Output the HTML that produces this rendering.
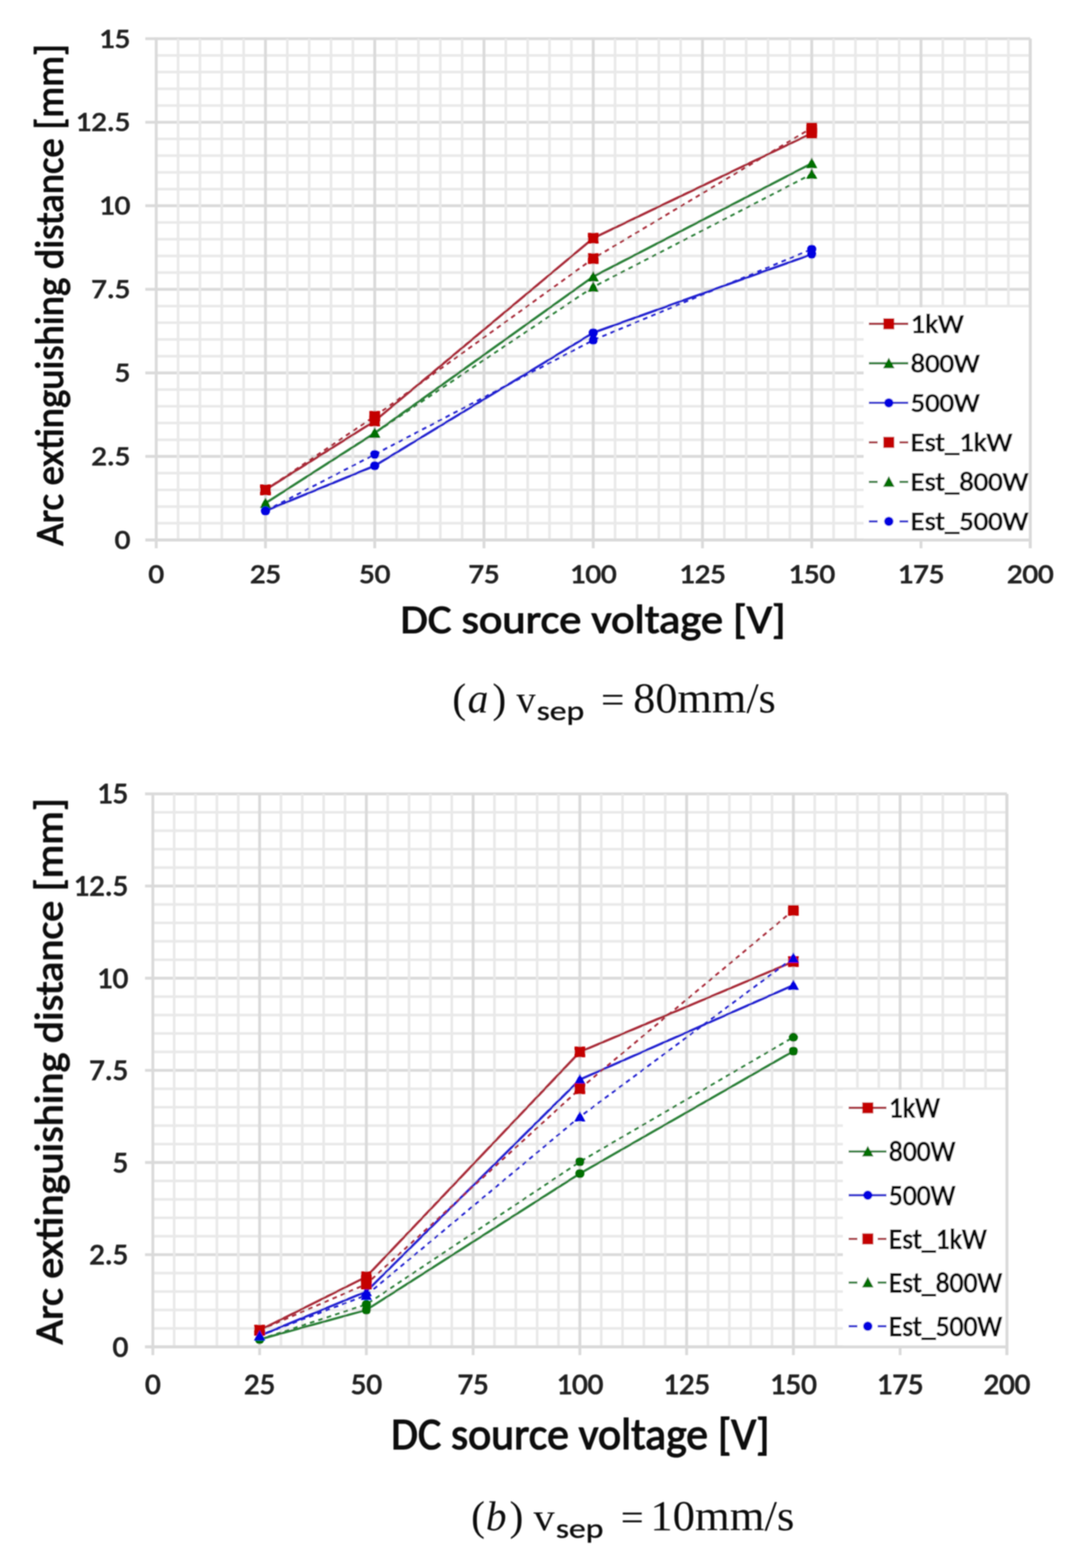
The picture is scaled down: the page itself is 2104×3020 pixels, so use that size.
<!DOCTYPE html>
<html><head><meta charset="utf-8"><title>Arc extinguishing distance vs DC source voltage</title>
<style>html,body{margin:0;padding:0;background:#fff;}body{width:2104px;height:3020px;overflow:hidden;}svg{display:block;}</style>
</head><body>
<svg width="2104" height="3020" viewBox="0 0 2104 3020">
<defs><filter id="soft" filterUnits="userSpaceOnUse" x="0" y="0" width="2104" height="3020"><feGaussianBlur stdDeviation="1.2"/></filter></defs>
<rect width="2104" height="3020" fill="#fff"/>
<g filter="url(#soft)">
<g><line x1="280" y1="1040" x2="1985" y2="1040" stroke="#dadada" stroke-width="5.5"/><line x1="301" y1="1007.82" x2="1985" y2="1007.82" stroke="#e9e9e9" stroke-width="5"/><line x1="301" y1="975.63" x2="1985" y2="975.63" stroke="#e9e9e9" stroke-width="5"/><line x1="301" y1="943.45" x2="1985" y2="943.45" stroke="#e9e9e9" stroke-width="5"/><line x1="301" y1="911.27" x2="1985" y2="911.27" stroke="#e9e9e9" stroke-width="5"/><line x1="280" y1="879.08" x2="1985" y2="879.08" stroke="#dadada" stroke-width="5.5"/><line x1="301" y1="846.9" x2="1985" y2="846.9" stroke="#e9e9e9" stroke-width="5"/><line x1="301" y1="814.72" x2="1985" y2="814.72" stroke="#e9e9e9" stroke-width="5"/><line x1="301" y1="782.53" x2="1985" y2="782.53" stroke="#e9e9e9" stroke-width="5"/><line x1="301" y1="750.35" x2="1985" y2="750.35" stroke="#e9e9e9" stroke-width="5"/><line x1="280" y1="718.17" x2="1985" y2="718.17" stroke="#dadada" stroke-width="5.5"/><line x1="301" y1="685.98" x2="1985" y2="685.98" stroke="#e9e9e9" stroke-width="5"/><line x1="301" y1="653.8" x2="1985" y2="653.8" stroke="#e9e9e9" stroke-width="5"/><line x1="301" y1="621.62" x2="1985" y2="621.62" stroke="#e9e9e9" stroke-width="5"/><line x1="301" y1="589.43" x2="1985" y2="589.43" stroke="#e9e9e9" stroke-width="5"/><line x1="280" y1="557.25" x2="1985" y2="557.25" stroke="#dadada" stroke-width="5.5"/><line x1="301" y1="525.07" x2="1985" y2="525.07" stroke="#e9e9e9" stroke-width="5"/><line x1="301" y1="492.88" x2="1985" y2="492.88" stroke="#e9e9e9" stroke-width="5"/><line x1="301" y1="460.7" x2="1985" y2="460.7" stroke="#e9e9e9" stroke-width="5"/><line x1="301" y1="428.52" x2="1985" y2="428.52" stroke="#e9e9e9" stroke-width="5"/><line x1="280" y1="396.33" x2="1985" y2="396.33" stroke="#dadada" stroke-width="5.5"/><line x1="301" y1="364.15" x2="1985" y2="364.15" stroke="#e9e9e9" stroke-width="5"/><line x1="301" y1="331.97" x2="1985" y2="331.97" stroke="#e9e9e9" stroke-width="5"/><line x1="301" y1="299.78" x2="1985" y2="299.78" stroke="#e9e9e9" stroke-width="5"/><line x1="301" y1="267.6" x2="1985" y2="267.6" stroke="#e9e9e9" stroke-width="5"/><line x1="280" y1="235.42" x2="1985" y2="235.42" stroke="#dadada" stroke-width="5.5"/><line x1="301" y1="203.23" x2="1985" y2="203.23" stroke="#e9e9e9" stroke-width="5"/><line x1="301" y1="171.05" x2="1985" y2="171.05" stroke="#e9e9e9" stroke-width="5"/><line x1="301" y1="138.87" x2="1985" y2="138.87" stroke="#e9e9e9" stroke-width="5"/><line x1="301" y1="106.68" x2="1985" y2="106.68" stroke="#e9e9e9" stroke-width="5"/><line x1="280" y1="74.5" x2="1985" y2="74.5" stroke="#dadada" stroke-width="5.5"/><line x1="301" y1="74.5" x2="301" y2="1056" stroke="#dadada" stroke-width="5.5"/><line x1="343.1" y1="74.5" x2="343.1" y2="1040" stroke="#e9e9e9" stroke-width="5"/><line x1="385.2" y1="74.5" x2="385.2" y2="1040" stroke="#e9e9e9" stroke-width="5"/><line x1="427.3" y1="74.5" x2="427.3" y2="1040" stroke="#e9e9e9" stroke-width="5"/><line x1="469.4" y1="74.5" x2="469.4" y2="1040" stroke="#e9e9e9" stroke-width="5"/><line x1="511.5" y1="74.5" x2="511.5" y2="1056" stroke="#dadada" stroke-width="5.5"/><line x1="553.6" y1="74.5" x2="553.6" y2="1040" stroke="#e9e9e9" stroke-width="5"/><line x1="595.7" y1="74.5" x2="595.7" y2="1040" stroke="#e9e9e9" stroke-width="5"/><line x1="637.8" y1="74.5" x2="637.8" y2="1040" stroke="#e9e9e9" stroke-width="5"/><line x1="679.9" y1="74.5" x2="679.9" y2="1040" stroke="#e9e9e9" stroke-width="5"/><line x1="722" y1="74.5" x2="722" y2="1056" stroke="#dadada" stroke-width="5.5"/><line x1="764.1" y1="74.5" x2="764.1" y2="1040" stroke="#e9e9e9" stroke-width="5"/><line x1="806.2" y1="74.5" x2="806.2" y2="1040" stroke="#e9e9e9" stroke-width="5"/><line x1="848.3" y1="74.5" x2="848.3" y2="1040" stroke="#e9e9e9" stroke-width="5"/><line x1="890.4" y1="74.5" x2="890.4" y2="1040" stroke="#e9e9e9" stroke-width="5"/><line x1="932.5" y1="74.5" x2="932.5" y2="1056" stroke="#dadada" stroke-width="5.5"/><line x1="974.6" y1="74.5" x2="974.6" y2="1040" stroke="#e9e9e9" stroke-width="5"/><line x1="1016.7" y1="74.5" x2="1016.7" y2="1040" stroke="#e9e9e9" stroke-width="5"/><line x1="1058.8" y1="74.5" x2="1058.8" y2="1040" stroke="#e9e9e9" stroke-width="5"/><line x1="1100.9" y1="74.5" x2="1100.9" y2="1040" stroke="#e9e9e9" stroke-width="5"/><line x1="1143" y1="74.5" x2="1143" y2="1056" stroke="#dadada" stroke-width="5.5"/><line x1="1185.1" y1="74.5" x2="1185.1" y2="1040" stroke="#e9e9e9" stroke-width="5"/><line x1="1227.2" y1="74.5" x2="1227.2" y2="1040" stroke="#e9e9e9" stroke-width="5"/><line x1="1269.3" y1="74.5" x2="1269.3" y2="1040" stroke="#e9e9e9" stroke-width="5"/><line x1="1311.4" y1="74.5" x2="1311.4" y2="1040" stroke="#e9e9e9" stroke-width="5"/><line x1="1353.5" y1="74.5" x2="1353.5" y2="1056" stroke="#dadada" stroke-width="5.5"/><line x1="1395.6" y1="74.5" x2="1395.6" y2="1040" stroke="#e9e9e9" stroke-width="5"/><line x1="1437.7" y1="74.5" x2="1437.7" y2="1040" stroke="#e9e9e9" stroke-width="5"/><line x1="1479.8" y1="74.5" x2="1479.8" y2="1040" stroke="#e9e9e9" stroke-width="5"/><line x1="1521.9" y1="74.5" x2="1521.9" y2="1040" stroke="#e9e9e9" stroke-width="5"/><line x1="1564" y1="74.5" x2="1564" y2="1056" stroke="#dadada" stroke-width="5.5"/><line x1="1606.1" y1="74.5" x2="1606.1" y2="1040" stroke="#e9e9e9" stroke-width="5"/><line x1="1648.2" y1="74.5" x2="1648.2" y2="1040" stroke="#e9e9e9" stroke-width="5"/><line x1="1690.3" y1="74.5" x2="1690.3" y2="1040" stroke="#e9e9e9" stroke-width="5"/><line x1="1732.4" y1="74.5" x2="1732.4" y2="1040" stroke="#e9e9e9" stroke-width="5"/><line x1="1774.5" y1="74.5" x2="1774.5" y2="1056" stroke="#dadada" stroke-width="5.5"/><line x1="1816.6" y1="74.5" x2="1816.6" y2="1040" stroke="#e9e9e9" stroke-width="5"/><line x1="1858.7" y1="74.5" x2="1858.7" y2="1040" stroke="#e9e9e9" stroke-width="5"/><line x1="1900.8" y1="74.5" x2="1900.8" y2="1040" stroke="#e9e9e9" stroke-width="5"/><line x1="1942.9" y1="74.5" x2="1942.9" y2="1040" stroke="#e9e9e9" stroke-width="5"/><line x1="1985" y1="74.5" x2="1985" y2="1056" stroke="#dadada" stroke-width="5.5"/></g>
<rect x="1664" y="592" width="320" height="446" fill="#fff"/>
<line x1="1985" y1="74.5" x2="1985" y2="1056" stroke="#dadada" stroke-width="5.5"/>
<line x1="280" y1="1040" x2="1985" y2="1040" stroke="#dadada" stroke-width="5.5"/>
<polyline points="511.5,943.45 722,810.85 1143,458.77 1564,256.66" fill="none" stroke="#a82a38" stroke-width="4.4" stroke-linejoin="round"/>
<polyline points="511.5,969.2 722,834.03 1143,532.79 1564,314.59" fill="none" stroke="#2a8038" stroke-width="4.4" stroke-linejoin="round"/>
<polyline points="511.5,984 722,897.11 1143,640.93 1564,489.66" fill="none" stroke="#2424d0" stroke-width="4.4" stroke-linejoin="round"/>
<polyline points="511.5,943.45 722,801.84 1143,498.03 1564,246.36" fill="none" stroke="#a82a38" stroke-width="3.6" stroke-dasharray="9 8" stroke-linejoin="round"/>
<polyline points="511.5,969.2 722,834.03 1143,552.74 1564,335.19" fill="none" stroke="#2a8038" stroke-width="3.6" stroke-dasharray="9 8" stroke-linejoin="round"/>
<polyline points="511.5,984 722,875.22 1143,655.09 1564,480.01" fill="none" stroke="#2424d0" stroke-width="3.6" stroke-dasharray="9 8" stroke-linejoin="round"/>
<rect x="501.17" y="933.12" width="20.67" height="20.67" fill="#c40000"/>
<rect x="711.66" y="800.52" width="20.67" height="20.67" fill="#c40000"/>
<rect x="1132.66" y="448.43" width="20.67" height="20.67" fill="#c40000"/>
<rect x="1553.66" y="246.32" width="20.67" height="20.67" fill="#c40000"/>
<polygon points="511.5,958.47 522.23,978.31 500.77,978.31" fill="#007000"/>
<polygon points="722,823.3 732.73,843.14 711.27,843.14" fill="#007000"/>
<polygon points="1143,522.07 1153.72,541.91 1132.28,541.91" fill="#007000"/>
<polygon points="1564,303.86 1574.72,323.7 1553.28,323.7" fill="#007000"/>
<circle cx="511.5" cy="984" r="8.78" fill="#0000e0"/>
<circle cx="722" cy="897.11" r="8.78" fill="#0000e0"/>
<circle cx="1143" cy="640.93" r="8.78" fill="#0000e0"/>
<circle cx="1564" cy="489.66" r="8.78" fill="#0000e0"/>
<rect x="501.17" y="933.12" width="20.67" height="20.67" fill="#c40000"/>
<rect x="711.66" y="791.51" width="20.67" height="20.67" fill="#c40000"/>
<rect x="1132.66" y="487.7" width="20.67" height="20.67" fill="#c40000"/>
<rect x="1553.66" y="236.02" width="20.67" height="20.67" fill="#c40000"/>
<polygon points="511.5,958.47 522.23,978.31 500.77,978.31" fill="#007000"/>
<polygon points="722,823.3 732.73,843.14 711.27,843.14" fill="#007000"/>
<polygon points="1143,542.02 1153.72,561.86 1132.28,561.86" fill="#007000"/>
<polygon points="1564,324.46 1574.72,344.3 1553.28,344.3" fill="#007000"/>
<circle cx="511.5" cy="984" r="8.78" fill="#0000e0"/>
<circle cx="722" cy="875.22" r="8.78" fill="#0000e0"/>
<circle cx="1143" cy="655.09" r="8.78" fill="#0000e0"/>
<circle cx="1564" cy="480.01" r="8.78" fill="#0000e0"/>
<line x1="1674" y1="623.7" x2="1750" y2="623.7" stroke="#a82a38" stroke-width="4.4"/>
<rect x="1701.9" y="613.1" width="21.2" height="21.2" fill="#c40000"/>
<text transform="translate(1754.5,640.7) scale(1.08,1)" font-size="51" text-anchor="start" font-family="Carlito, 'Liberation Sans', sans-serif" fill="#111" font-weight="normal" stroke="#111" stroke-width="1.6" textLength="94.39" lengthAdjust="spacingAndGlyphs">1kW</text>
<line x1="1674" y1="699.8" x2="1750" y2="699.8" stroke="#2a8038" stroke-width="4.4"/>
<polygon points="1712.5,688.8 1723.5,709.15 1701.5,709.15" fill="#007000"/>
<text transform="translate(1754.5,716.8) scale(1.08,1)" font-size="51" text-anchor="start" font-family="Carlito, 'Liberation Sans', sans-serif" fill="#111" font-weight="normal" stroke="#111" stroke-width="1.6" textLength="122.88" lengthAdjust="spacingAndGlyphs">800W</text>
<line x1="1674" y1="775.9" x2="1750" y2="775.9" stroke="#2424d0" stroke-width="4.4"/>
<circle cx="1712.5" cy="775.9" r="9" fill="#0000e0"/>
<text transform="translate(1754.5,792.9) scale(1.08,1)" font-size="51" text-anchor="start" font-family="Carlito, 'Liberation Sans', sans-serif" fill="#111" font-weight="normal" stroke="#111" stroke-width="1.6" textLength="122.88" lengthAdjust="spacingAndGlyphs">500W</text>
<line x1="1674" y1="852" x2="1691" y2="852" stroke="#a82a38" stroke-width="4.2"/>
<line x1="1733" y1="852" x2="1750" y2="852" stroke="#a82a38" stroke-width="4.2"/>
<rect x="1701.9" y="841.4" width="21.2" height="21.2" fill="#c40000"/>
<text transform="translate(1754.5,869) scale(1.08,1)" font-size="51" text-anchor="start" font-family="Carlito, 'Liberation Sans', sans-serif" fill="#111" font-weight="normal" stroke="#111" stroke-width="1.6" textLength="181.12" lengthAdjust="spacingAndGlyphs">Est_1kW</text>
<line x1="1674" y1="928.1" x2="1691" y2="928.1" stroke="#2a8038" stroke-width="4.2"/>
<line x1="1733" y1="928.1" x2="1750" y2="928.1" stroke="#2a8038" stroke-width="4.2"/>
<polygon points="1712.5,917.1 1723.5,937.45 1701.5,937.45" fill="#007000"/>
<text transform="translate(1754.5,945.1) scale(1.08,1)" font-size="51" text-anchor="start" font-family="Carlito, 'Liberation Sans', sans-serif" fill="#111" font-weight="normal" stroke="#111" stroke-width="1.6" textLength="209.63" lengthAdjust="spacingAndGlyphs">Est_800W</text>
<line x1="1674" y1="1004.2" x2="1691" y2="1004.2" stroke="#2424d0" stroke-width="4.2"/>
<line x1="1733" y1="1004.2" x2="1750" y2="1004.2" stroke="#2424d0" stroke-width="4.2"/>
<circle cx="1712.5" cy="1004.2" r="9" fill="#0000e0"/>
<text transform="translate(1754.5,1021.2) scale(1.08,1)" font-size="51" text-anchor="start" font-family="Carlito, 'Liberation Sans', sans-serif" fill="#111" font-weight="normal" stroke="#111" stroke-width="1.6" textLength="209.63" lengthAdjust="spacingAndGlyphs">Est_500W</text>
<text transform="translate(251,1057) scale(1.12,1)" font-size="53" text-anchor="end" font-family="Carlito, 'Liberation Sans', sans-serif" fill="#222" font-weight="normal" stroke="#222" stroke-width="1.6" textLength="26.86" lengthAdjust="spacingAndGlyphs">0</text>
<text transform="translate(251,896.08) scale(1.12,1)" font-size="53" text-anchor="end" font-family="Carlito, 'Liberation Sans', sans-serif" fill="#222" font-weight="normal" stroke="#222" stroke-width="1.6" textLength="67.09" lengthAdjust="spacingAndGlyphs">2.5</text>
<text transform="translate(251,735.17) scale(1.12,1)" font-size="53" text-anchor="end" font-family="Carlito, 'Liberation Sans', sans-serif" fill="#222" font-weight="normal" stroke="#222" stroke-width="1.6" textLength="26.86" lengthAdjust="spacingAndGlyphs">5</text>
<text transform="translate(251,574.25) scale(1.12,1)" font-size="53" text-anchor="end" font-family="Carlito, 'Liberation Sans', sans-serif" fill="#222" font-weight="normal" stroke="#222" stroke-width="1.6" textLength="67.09" lengthAdjust="spacingAndGlyphs">7.5</text>
<text transform="translate(251,413.33) scale(1.12,1)" font-size="53" text-anchor="end" font-family="Carlito, 'Liberation Sans', sans-serif" fill="#222" font-weight="normal" stroke="#222" stroke-width="1.6" textLength="53.72" lengthAdjust="spacingAndGlyphs">10</text>
<text transform="translate(251,252.42) scale(1.12,1)" font-size="53" text-anchor="end" font-family="Carlito, 'Liberation Sans', sans-serif" fill="#222" font-weight="normal" stroke="#222" stroke-width="1.6" textLength="93.94" lengthAdjust="spacingAndGlyphs">12.5</text>
<text transform="translate(251,91.5) scale(1.12,1)" font-size="53" text-anchor="end" font-family="Carlito, 'Liberation Sans', sans-serif" fill="#222" font-weight="normal" stroke="#222" stroke-width="1.6" textLength="53.72" lengthAdjust="spacingAndGlyphs">15</text>
<text transform="translate(301,1123) scale(1.12,1)" font-size="53" text-anchor="middle" font-family="Carlito, 'Liberation Sans', sans-serif" fill="#222" font-weight="normal" stroke="#222" stroke-width="1.6" textLength="26.86" lengthAdjust="spacingAndGlyphs">0</text>
<text transform="translate(511.5,1123) scale(1.12,1)" font-size="53" text-anchor="middle" font-family="Carlito, 'Liberation Sans', sans-serif" fill="#222" font-weight="normal" stroke="#222" stroke-width="1.6" textLength="53.72" lengthAdjust="spacingAndGlyphs">25</text>
<text transform="translate(722,1123) scale(1.12,1)" font-size="53" text-anchor="middle" font-family="Carlito, 'Liberation Sans', sans-serif" fill="#222" font-weight="normal" stroke="#222" stroke-width="1.6" textLength="53.72" lengthAdjust="spacingAndGlyphs">50</text>
<text transform="translate(932.5,1123) scale(1.12,1)" font-size="53" text-anchor="middle" font-family="Carlito, 'Liberation Sans', sans-serif" fill="#222" font-weight="normal" stroke="#222" stroke-width="1.6" textLength="53.72" lengthAdjust="spacingAndGlyphs">75</text>
<text transform="translate(1143,1123) scale(1.12,1)" font-size="53" text-anchor="middle" font-family="Carlito, 'Liberation Sans', sans-serif" fill="#222" font-weight="normal" stroke="#222" stroke-width="1.6" textLength="80.56" lengthAdjust="spacingAndGlyphs">100</text>
<text transform="translate(1353.5,1123) scale(1.12,1)" font-size="53" text-anchor="middle" font-family="Carlito, 'Liberation Sans', sans-serif" fill="#222" font-weight="normal" stroke="#222" stroke-width="1.6" textLength="80.56" lengthAdjust="spacingAndGlyphs">125</text>
<text transform="translate(1564,1123) scale(1.12,1)" font-size="53" text-anchor="middle" font-family="Carlito, 'Liberation Sans', sans-serif" fill="#222" font-weight="normal" stroke="#222" stroke-width="1.6" textLength="80.56" lengthAdjust="spacingAndGlyphs">150</text>
<text transform="translate(1774.5,1123) scale(1.12,1)" font-size="53" text-anchor="middle" font-family="Carlito, 'Liberation Sans', sans-serif" fill="#222" font-weight="normal" stroke="#222" stroke-width="1.6" textLength="80.56" lengthAdjust="spacingAndGlyphs">175</text>
<text transform="translate(1985,1123) scale(1.12,1)" font-size="53" text-anchor="middle" font-family="Carlito, 'Liberation Sans', sans-serif" fill="#222" font-weight="normal" stroke="#222" stroke-width="1.6" textLength="80.56" lengthAdjust="spacingAndGlyphs">200</text>
<text x="1142.5" y="1219" font-size="79" text-anchor="middle" font-family="Carlito, 'Liberation Sans', sans-serif" fill="#111" font-weight="normal" textLength="742" lengthAdjust="spacingAndGlyphs" stroke="#111" stroke-width="2">DC source voltage [V]</text>
<g transform="translate(121,568) rotate(-90)"><text x="0" y="0" font-size="77" text-anchor="middle" font-family="Carlito, 'Liberation Sans', sans-serif" fill="#111" font-weight="normal" textLength="966" lengthAdjust="spacingAndGlyphs" stroke="#111" stroke-width="2">Arc extinguishing distance [mm]</text></g>
<text transform="translate(871.5,1372) scale(1,1)" font-family="'Liberation Serif', serif" font-size="80" font-weight="normal" fill="#111" textLength="26.64" lengthAdjust="spacingAndGlyphs">(</text><text transform="translate(901,1372) scale(1,1)" font-family="'Liberation Serif', serif" font-size="80" font-weight="normal" font-style="italic" fill="#111" textLength="40.00" lengthAdjust="spacingAndGlyphs">a</text><text transform="translate(948.7,1372) scale(1,1)" font-family="'Liberation Serif', serif" font-size="80" font-weight="normal" fill="#111" textLength="26.64" lengthAdjust="spacingAndGlyphs">)</text><text transform="translate(995,1372) scale(1,1)" font-family="'Liberation Serif', serif" font-size="74" font-weight="normal" fill="#111" textLength="37.00" lengthAdjust="spacingAndGlyphs">v</text><text transform="translate(1034,1387) scale(1.2,1)" font-family="Carlito, 'Liberation Sans', sans-serif" font-size="54" font-weight="normal" fill="#111" stroke="#111" stroke-width="0.7" textLength="76.35" lengthAdjust="spacingAndGlyphs">sep</text><text transform="translate(1158,1372) scale(1.08,1)" font-family="'Liberation Serif', serif" font-size="74" font-weight="normal" fill="#111" textLength="41.74" lengthAdjust="spacingAndGlyphs">=</text><text transform="translate(1220,1372) scale(1.04,1)" font-family="'Liberation Serif', serif" font-size="82" font-weight="normal" fill="#111" textLength="264.21" lengthAdjust="spacingAndGlyphs">80mm/s</text>
<g><line x1="279.5" y1="2594" x2="1940" y2="2594" stroke="#dadada" stroke-width="5.5"/><line x1="294.5" y1="2558.5" x2="1940" y2="2558.5" stroke="#e9e9e9" stroke-width="5"/><line x1="294.5" y1="2523" x2="1940" y2="2523" stroke="#e9e9e9" stroke-width="5"/><line x1="294.5" y1="2487.5" x2="1940" y2="2487.5" stroke="#e9e9e9" stroke-width="5"/><line x1="294.5" y1="2452" x2="1940" y2="2452" stroke="#e9e9e9" stroke-width="5"/><line x1="279.5" y1="2416.5" x2="1940" y2="2416.5" stroke="#dadada" stroke-width="5.5"/><line x1="294.5" y1="2381" x2="1940" y2="2381" stroke="#e9e9e9" stroke-width="5"/><line x1="294.5" y1="2345.5" x2="1940" y2="2345.5" stroke="#e9e9e9" stroke-width="5"/><line x1="294.5" y1="2310" x2="1940" y2="2310" stroke="#e9e9e9" stroke-width="5"/><line x1="294.5" y1="2274.5" x2="1940" y2="2274.5" stroke="#e9e9e9" stroke-width="5"/><line x1="279.5" y1="2239" x2="1940" y2="2239" stroke="#dadada" stroke-width="5.5"/><line x1="294.5" y1="2203.5" x2="1940" y2="2203.5" stroke="#e9e9e9" stroke-width="5"/><line x1="294.5" y1="2168" x2="1940" y2="2168" stroke="#e9e9e9" stroke-width="5"/><line x1="294.5" y1="2132.5" x2="1940" y2="2132.5" stroke="#e9e9e9" stroke-width="5"/><line x1="294.5" y1="2097" x2="1940" y2="2097" stroke="#e9e9e9" stroke-width="5"/><line x1="279.5" y1="2061.5" x2="1940" y2="2061.5" stroke="#dadada" stroke-width="5.5"/><line x1="294.5" y1="2026" x2="1940" y2="2026" stroke="#e9e9e9" stroke-width="5"/><line x1="294.5" y1="1990.5" x2="1940" y2="1990.5" stroke="#e9e9e9" stroke-width="5"/><line x1="294.5" y1="1955" x2="1940" y2="1955" stroke="#e9e9e9" stroke-width="5"/><line x1="294.5" y1="1919.5" x2="1940" y2="1919.5" stroke="#e9e9e9" stroke-width="5"/><line x1="279.5" y1="1884" x2="1940" y2="1884" stroke="#dadada" stroke-width="5.5"/><line x1="294.5" y1="1848.5" x2="1940" y2="1848.5" stroke="#e9e9e9" stroke-width="5"/><line x1="294.5" y1="1813" x2="1940" y2="1813" stroke="#e9e9e9" stroke-width="5"/><line x1="294.5" y1="1777.5" x2="1940" y2="1777.5" stroke="#e9e9e9" stroke-width="5"/><line x1="294.5" y1="1742" x2="1940" y2="1742" stroke="#e9e9e9" stroke-width="5"/><line x1="279.5" y1="1706.5" x2="1940" y2="1706.5" stroke="#dadada" stroke-width="5.5"/><line x1="294.5" y1="1671" x2="1940" y2="1671" stroke="#e9e9e9" stroke-width="5"/><line x1="294.5" y1="1635.5" x2="1940" y2="1635.5" stroke="#e9e9e9" stroke-width="5"/><line x1="294.5" y1="1600" x2="1940" y2="1600" stroke="#e9e9e9" stroke-width="5"/><line x1="294.5" y1="1564.5" x2="1940" y2="1564.5" stroke="#e9e9e9" stroke-width="5"/><line x1="279.5" y1="1529" x2="1940" y2="1529" stroke="#dadada" stroke-width="5.5"/><line x1="294.5" y1="1529" x2="294.5" y2="2610" stroke="#dadada" stroke-width="5.5"/><line x1="335.64" y1="1529" x2="335.64" y2="2594" stroke="#e9e9e9" stroke-width="5"/><line x1="376.77" y1="1529" x2="376.77" y2="2594" stroke="#e9e9e9" stroke-width="5"/><line x1="417.91" y1="1529" x2="417.91" y2="2594" stroke="#e9e9e9" stroke-width="5"/><line x1="459.05" y1="1529" x2="459.05" y2="2594" stroke="#e9e9e9" stroke-width="5"/><line x1="500.19" y1="1529" x2="500.19" y2="2610" stroke="#dadada" stroke-width="5.5"/><line x1="541.33" y1="1529" x2="541.33" y2="2594" stroke="#e9e9e9" stroke-width="5"/><line x1="582.46" y1="1529" x2="582.46" y2="2594" stroke="#e9e9e9" stroke-width="5"/><line x1="623.6" y1="1529" x2="623.6" y2="2594" stroke="#e9e9e9" stroke-width="5"/><line x1="664.74" y1="1529" x2="664.74" y2="2594" stroke="#e9e9e9" stroke-width="5"/><line x1="705.88" y1="1529" x2="705.88" y2="2610" stroke="#dadada" stroke-width="5.5"/><line x1="747.01" y1="1529" x2="747.01" y2="2594" stroke="#e9e9e9" stroke-width="5"/><line x1="788.15" y1="1529" x2="788.15" y2="2594" stroke="#e9e9e9" stroke-width="5"/><line x1="829.29" y1="1529" x2="829.29" y2="2594" stroke="#e9e9e9" stroke-width="5"/><line x1="870.42" y1="1529" x2="870.42" y2="2594" stroke="#e9e9e9" stroke-width="5"/><line x1="911.56" y1="1529" x2="911.56" y2="2610" stroke="#dadada" stroke-width="5.5"/><line x1="952.7" y1="1529" x2="952.7" y2="2594" stroke="#e9e9e9" stroke-width="5"/><line x1="993.84" y1="1529" x2="993.84" y2="2594" stroke="#e9e9e9" stroke-width="5"/><line x1="1034.97" y1="1529" x2="1034.97" y2="2594" stroke="#e9e9e9" stroke-width="5"/><line x1="1076.11" y1="1529" x2="1076.11" y2="2594" stroke="#e9e9e9" stroke-width="5"/><line x1="1117.25" y1="1529" x2="1117.25" y2="2610" stroke="#dadada" stroke-width="5.5"/><line x1="1158.39" y1="1529" x2="1158.39" y2="2594" stroke="#e9e9e9" stroke-width="5"/><line x1="1199.52" y1="1529" x2="1199.52" y2="2594" stroke="#e9e9e9" stroke-width="5"/><line x1="1240.66" y1="1529" x2="1240.66" y2="2594" stroke="#e9e9e9" stroke-width="5"/><line x1="1281.8" y1="1529" x2="1281.8" y2="2594" stroke="#e9e9e9" stroke-width="5"/><line x1="1322.94" y1="1529" x2="1322.94" y2="2610" stroke="#dadada" stroke-width="5.5"/><line x1="1364.07" y1="1529" x2="1364.07" y2="2594" stroke="#e9e9e9" stroke-width="5"/><line x1="1405.21" y1="1529" x2="1405.21" y2="2594" stroke="#e9e9e9" stroke-width="5"/><line x1="1446.35" y1="1529" x2="1446.35" y2="2594" stroke="#e9e9e9" stroke-width="5"/><line x1="1487.49" y1="1529" x2="1487.49" y2="2594" stroke="#e9e9e9" stroke-width="5"/><line x1="1528.62" y1="1529" x2="1528.62" y2="2610" stroke="#dadada" stroke-width="5.5"/><line x1="1569.76" y1="1529" x2="1569.76" y2="2594" stroke="#e9e9e9" stroke-width="5"/><line x1="1610.9" y1="1529" x2="1610.9" y2="2594" stroke="#e9e9e9" stroke-width="5"/><line x1="1652.04" y1="1529" x2="1652.04" y2="2594" stroke="#e9e9e9" stroke-width="5"/><line x1="1693.17" y1="1529" x2="1693.17" y2="2594" stroke="#e9e9e9" stroke-width="5"/><line x1="1734.31" y1="1529" x2="1734.31" y2="2610" stroke="#dadada" stroke-width="5.5"/><line x1="1775.45" y1="1529" x2="1775.45" y2="2594" stroke="#e9e9e9" stroke-width="5"/><line x1="1816.59" y1="1529" x2="1816.59" y2="2594" stroke="#e9e9e9" stroke-width="5"/><line x1="1857.72" y1="1529" x2="1857.72" y2="2594" stroke="#e9e9e9" stroke-width="5"/><line x1="1898.86" y1="1529" x2="1898.86" y2="2594" stroke="#e9e9e9" stroke-width="5"/><line x1="1940" y1="1529" x2="1940" y2="2610" stroke="#dadada" stroke-width="5.5"/></g>
<rect x="1624" y="2099" width="314" height="493" fill="#fff"/>
<line x1="1940" y1="1529" x2="1940" y2="2610" stroke="#dadada" stroke-width="5.5"/>
<line x1="279.5" y1="2594" x2="1940" y2="2594" stroke="#dadada" stroke-width="5.5"/>
<polyline points="500.19,2562.05 705.88,2459.1 1117.25,2026 1528.62,1852.05" fill="none" stroke="#a82a38" stroke-width="4.4" stroke-linejoin="round"/>
<polyline points="500.19,2579.8 705.88,2523 1117.25,2260.3 1528.62,2024.58" fill="none" stroke="#2a8038" stroke-width="4.4" stroke-linejoin="round"/>
<polyline points="500.19,2572.7 705.88,2487.5 1117.25,2079.25 1528.62,1897.49" fill="none" stroke="#2424d0" stroke-width="4.4" stroke-linejoin="round"/>
<polyline points="500.19,2562.05 705.88,2473.3 1117.25,2097 1528.62,1753.36" fill="none" stroke="#a82a38" stroke-width="3.6" stroke-dasharray="9 8" stroke-linejoin="round"/>
<polyline points="500.19,2579.8 705.88,2512.35 1117.25,2237.58 1528.62,1997.6" fill="none" stroke="#2a8038" stroke-width="3.6" stroke-dasharray="9 8" stroke-linejoin="round"/>
<polyline points="500.19,2572.7 705.88,2494.6 1117.25,2150.96 1528.62,1844.95" fill="none" stroke="#2424d0" stroke-width="3.6" stroke-dasharray="9 8" stroke-linejoin="round"/>
<rect x="489.85" y="2551.72" width="20.67" height="20.67" fill="#c40000"/>
<rect x="695.54" y="2448.76" width="20.67" height="20.67" fill="#c40000"/>
<rect x="1106.91" y="2015.66" width="20.67" height="20.67" fill="#c40000"/>
<rect x="1518.29" y="1841.72" width="20.67" height="20.67" fill="#c40000"/>
<circle cx="500.19" cy="2579.8" r="8.78" fill="#007000"/>
<circle cx="705.88" cy="2523" r="8.78" fill="#007000"/>
<circle cx="1117.25" cy="2260.3" r="8.78" fill="#007000"/>
<circle cx="1528.62" cy="2024.58" r="8.78" fill="#007000"/>
<polygon points="500.19,2561.97 510.91,2581.82 489.46,2581.82" fill="#0000e0"/>
<polygon points="705.88,2476.78 716.6,2496.62 695.15,2496.62" fill="#0000e0"/>
<polygon points="1117.25,2068.53 1127.97,2088.37 1106.53,2088.37" fill="#0000e0"/>
<polygon points="1528.62,1886.77 1539.35,1906.61 1517.9,1906.61" fill="#0000e0"/>
<rect x="489.85" y="2551.72" width="20.67" height="20.67" fill="#c40000"/>
<rect x="695.54" y="2462.97" width="20.67" height="20.67" fill="#c40000"/>
<rect x="1106.91" y="2086.66" width="20.67" height="20.67" fill="#c40000"/>
<rect x="1518.29" y="1743.03" width="20.67" height="20.67" fill="#c40000"/>
<circle cx="500.19" cy="2579.8" r="8.78" fill="#007000"/>
<circle cx="705.88" cy="2512.35" r="8.78" fill="#007000"/>
<circle cx="1117.25" cy="2237.58" r="8.78" fill="#007000"/>
<circle cx="1528.62" cy="1997.6" r="8.78" fill="#007000"/>
<polygon points="500.19,2561.97 510.91,2581.82 489.46,2581.82" fill="#0000e0"/>
<polygon points="705.88,2483.88 716.6,2503.72 695.15,2503.72" fill="#0000e0"/>
<polygon points="1117.25,2140.24 1127.97,2160.08 1106.53,2160.08" fill="#0000e0"/>
<polygon points="1528.62,1834.22 1539.35,1854.07 1517.9,1854.07" fill="#0000e0"/>
<line x1="1635" y1="2133.8" x2="1708" y2="2133.8" stroke="#a82a38" stroke-width="4.4"/>
<rect x="1661.4" y="2123.2" width="21.2" height="21.2" fill="#c40000"/>
<text transform="translate(1712.5,2152.3) scale(1.04,1.1)" font-size="51" text-anchor="start" font-family="Carlito, 'Liberation Sans', sans-serif" fill="#111" font-weight="normal" stroke="#111" stroke-width="1.6" textLength="94.38" lengthAdjust="spacingAndGlyphs">1kW</text>
<line x1="1635" y1="2217.9" x2="1708" y2="2217.9" stroke="#2a8038" stroke-width="4.4"/>
<polygon points="1672,2206.9 1683,2227.25 1661,2227.25" fill="#007000"/>
<text transform="translate(1712.5,2236.4) scale(1.04,1.1)" font-size="51" text-anchor="start" font-family="Carlito, 'Liberation Sans', sans-serif" fill="#111" font-weight="normal" stroke="#111" stroke-width="1.6" textLength="122.89" lengthAdjust="spacingAndGlyphs">800W</text>
<line x1="1635" y1="2302" x2="1708" y2="2302" stroke="#2424d0" stroke-width="4.4"/>
<circle cx="1672" cy="2302" r="9" fill="#0000e0"/>
<text transform="translate(1712.5,2320.5) scale(1.04,1.1)" font-size="51" text-anchor="start" font-family="Carlito, 'Liberation Sans', sans-serif" fill="#111" font-weight="normal" stroke="#111" stroke-width="1.6" textLength="122.89" lengthAdjust="spacingAndGlyphs">500W</text>
<line x1="1635" y1="2386.1" x2="1652" y2="2386.1" stroke="#a82a38" stroke-width="4.2"/>
<line x1="1691" y1="2386.1" x2="1708" y2="2386.1" stroke="#a82a38" stroke-width="4.2"/>
<rect x="1661.4" y="2375.5" width="21.2" height="21.2" fill="#c40000"/>
<text transform="translate(1712.5,2404.6) scale(1.04,1.1)" font-size="51" text-anchor="start" font-family="Carlito, 'Liberation Sans', sans-serif" fill="#111" font-weight="normal" stroke="#111" stroke-width="1.6" textLength="181.12" lengthAdjust="spacingAndGlyphs">Est_1kW</text>
<line x1="1635" y1="2470.2" x2="1652" y2="2470.2" stroke="#2a8038" stroke-width="4.2"/>
<line x1="1691" y1="2470.2" x2="1708" y2="2470.2" stroke="#2a8038" stroke-width="4.2"/>
<polygon points="1672,2459.2 1683,2479.55 1661,2479.55" fill="#007000"/>
<text transform="translate(1712.5,2488.7) scale(1.04,1.1)" font-size="51" text-anchor="start" font-family="Carlito, 'Liberation Sans', sans-serif" fill="#111" font-weight="normal" stroke="#111" stroke-width="1.6" textLength="209.63" lengthAdjust="spacingAndGlyphs">Est_800W</text>
<line x1="1635" y1="2554.3" x2="1652" y2="2554.3" stroke="#2424d0" stroke-width="4.2"/>
<line x1="1691" y1="2554.3" x2="1708" y2="2554.3" stroke="#2424d0" stroke-width="4.2"/>
<circle cx="1672" cy="2554.3" r="9" fill="#0000e0"/>
<text transform="translate(1712.5,2572.8) scale(1.04,1.1)" font-size="51" text-anchor="start" font-family="Carlito, 'Liberation Sans', sans-serif" fill="#111" font-weight="normal" stroke="#111" stroke-width="1.6" textLength="209.63" lengthAdjust="spacingAndGlyphs">Est_500W</text>
<text transform="translate(247,2612.5) scale(1.12,1.09)" font-size="53" text-anchor="end" font-family="Carlito, 'Liberation Sans', sans-serif" fill="#222" font-weight="normal" stroke="#222" stroke-width="1.6" textLength="26.86" lengthAdjust="spacingAndGlyphs">0</text>
<text transform="translate(247,2435) scale(1.12,1.09)" font-size="53" text-anchor="end" font-family="Carlito, 'Liberation Sans', sans-serif" fill="#222" font-weight="normal" stroke="#222" stroke-width="1.6" textLength="67.10" lengthAdjust="spacingAndGlyphs">2.5</text>
<text transform="translate(247,2257.5) scale(1.12,1.09)" font-size="53" text-anchor="end" font-family="Carlito, 'Liberation Sans', sans-serif" fill="#222" font-weight="normal" stroke="#222" stroke-width="1.6" textLength="26.86" lengthAdjust="spacingAndGlyphs">5</text>
<text transform="translate(247,2080) scale(1.12,1.09)" font-size="53" text-anchor="end" font-family="Carlito, 'Liberation Sans', sans-serif" fill="#222" font-weight="normal" stroke="#222" stroke-width="1.6" textLength="67.10" lengthAdjust="spacingAndGlyphs">7.5</text>
<text transform="translate(247,1902.5) scale(1.12,1.09)" font-size="53" text-anchor="end" font-family="Carlito, 'Liberation Sans', sans-serif" fill="#222" font-weight="normal" stroke="#222" stroke-width="1.6" textLength="53.73" lengthAdjust="spacingAndGlyphs">10</text>
<text transform="translate(247,1725) scale(1.12,1.09)" font-size="53" text-anchor="end" font-family="Carlito, 'Liberation Sans', sans-serif" fill="#222" font-weight="normal" stroke="#222" stroke-width="1.6" textLength="93.97" lengthAdjust="spacingAndGlyphs">12.5</text>
<text transform="translate(247,1547.5) scale(1.12,1.09)" font-size="53" text-anchor="end" font-family="Carlito, 'Liberation Sans', sans-serif" fill="#222" font-weight="normal" stroke="#222" stroke-width="1.6" textLength="53.73" lengthAdjust="spacingAndGlyphs">15</text>
<text transform="translate(294.5,2685) scale(1.12,1.09)" font-size="53" text-anchor="middle" font-family="Carlito, 'Liberation Sans', sans-serif" fill="#222" font-weight="normal" stroke="#222" stroke-width="1.6" textLength="26.86" lengthAdjust="spacingAndGlyphs">0</text>
<text transform="translate(500.19,2685) scale(1.12,1.09)" font-size="53" text-anchor="middle" font-family="Carlito, 'Liberation Sans', sans-serif" fill="#222" font-weight="normal" stroke="#222" stroke-width="1.6" textLength="53.73" lengthAdjust="spacingAndGlyphs">25</text>
<text transform="translate(705.88,2685) scale(1.12,1.09)" font-size="53" text-anchor="middle" font-family="Carlito, 'Liberation Sans', sans-serif" fill="#222" font-weight="normal" stroke="#222" stroke-width="1.6" textLength="53.73" lengthAdjust="spacingAndGlyphs">50</text>
<text transform="translate(911.56,2685) scale(1.12,1.09)" font-size="53" text-anchor="middle" font-family="Carlito, 'Liberation Sans', sans-serif" fill="#222" font-weight="normal" stroke="#222" stroke-width="1.6" textLength="53.73" lengthAdjust="spacingAndGlyphs">75</text>
<text transform="translate(1117.25,2685) scale(1.12,1.09)" font-size="53" text-anchor="middle" font-family="Carlito, 'Liberation Sans', sans-serif" fill="#222" font-weight="normal" stroke="#222" stroke-width="1.6" textLength="80.58" lengthAdjust="spacingAndGlyphs">100</text>
<text transform="translate(1322.94,2685) scale(1.12,1.09)" font-size="53" text-anchor="middle" font-family="Carlito, 'Liberation Sans', sans-serif" fill="#222" font-weight="normal" stroke="#222" stroke-width="1.6" textLength="80.58" lengthAdjust="spacingAndGlyphs">125</text>
<text transform="translate(1528.62,2685) scale(1.12,1.09)" font-size="53" text-anchor="middle" font-family="Carlito, 'Liberation Sans', sans-serif" fill="#222" font-weight="normal" stroke="#222" stroke-width="1.6" textLength="80.58" lengthAdjust="spacingAndGlyphs">150</text>
<text transform="translate(1734.31,2685) scale(1.12,1.09)" font-size="53" text-anchor="middle" font-family="Carlito, 'Liberation Sans', sans-serif" fill="#222" font-weight="normal" stroke="#222" stroke-width="1.6" textLength="80.58" lengthAdjust="spacingAndGlyphs">175</text>
<text transform="translate(1940,2685) scale(1.12,1.09)" font-size="53" text-anchor="middle" font-family="Carlito, 'Liberation Sans', sans-serif" fill="#222" font-weight="normal" stroke="#222" stroke-width="1.6" textLength="80.58" lengthAdjust="spacingAndGlyphs">200</text>
<text transform="translate(1118,2791) scale(1,1.08)" font-size="79" text-anchor="middle" font-family="Carlito, 'Liberation Sans', sans-serif" fill="#111" font-weight="normal" textLength="729" lengthAdjust="spacingAndGlyphs" stroke="#111" stroke-width="2">DC source voltage [V]</text>
<g transform="translate(120,2063.3) rotate(-90)"><text x="0" y="0" font-size="77" text-anchor="middle" font-family="Carlito, 'Liberation Sans', sans-serif" fill="#111" font-weight="normal" textLength="1052" lengthAdjust="spacingAndGlyphs" stroke="#111" stroke-width="2">Arc extinguishing distance [mm]</text></g>
<text transform="translate(907.7,2947) scale(1,1)" font-family="'Liberation Serif', serif" font-size="80" font-weight="normal" fill="#111" textLength="26.64" lengthAdjust="spacingAndGlyphs">(</text><text transform="translate(936,2947) scale(1,1)" font-family="'Liberation Serif', serif" font-size="80" font-weight="normal" font-style="italic" fill="#111" textLength="40.00" lengthAdjust="spacingAndGlyphs">b</text><text transform="translate(981.7,2947) scale(1,1)" font-family="'Liberation Serif', serif" font-size="80" font-weight="normal" fill="#111" textLength="26.64" lengthAdjust="spacingAndGlyphs">)</text><text transform="translate(1028,2947) scale(1.1,1)" font-family="'Liberation Serif', serif" font-size="74" font-weight="normal" fill="#111" textLength="37.00" lengthAdjust="spacingAndGlyphs">v</text><text transform="translate(1071,2962) scale(1.2,1)" font-family="Carlito, 'Liberation Sans', sans-serif" font-size="54" font-weight="normal" fill="#111" stroke="#111" stroke-width="0.7" textLength="76.35" lengthAdjust="spacingAndGlyphs">sep</text><text transform="translate(1196,2947) scale(1.06,1)" font-family="'Liberation Serif', serif" font-size="74" font-weight="normal" fill="#111" textLength="41.75" lengthAdjust="spacingAndGlyphs">=</text><text transform="translate(1253,2947) scale(1.05,1)" font-family="'Liberation Serif', serif" font-size="82" font-weight="normal" fill="#111" textLength="264.22" lengthAdjust="spacingAndGlyphs">10mm/s</text>
</g>
</svg>
</body></html>
